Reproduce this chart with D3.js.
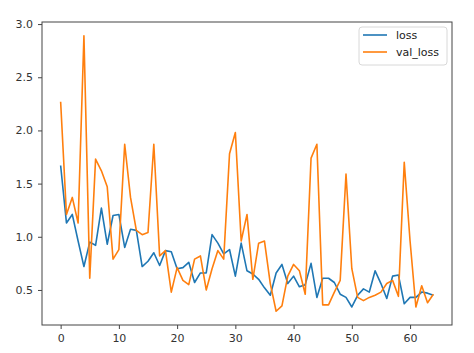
<!DOCTYPE html>
<html lang="en">
<head>
    <meta charset="UTF-8">
    <title>loss / val_loss</title>
    <script src="https://cdnjs.cloudflare.com/ajax/libs/d3/7.8.5/d3.min.js"></script>
    <style>
        body { margin: 0; background: #fff; font-family: "DejaVu Sans", sans-serif; }
        .axis text { font-size: 11px; fill: #333; font-family: "DejaVu Sans", sans-serif; }
        .axis path, .axis line { stroke: #444; }
        .legend text { font-size: 11px; fill: #222; }
    </style>
</head>
<body>
    <div id="chart"></div>
    <script>
    // per-epoch values
    const loss = [1.67, 1.13, 1.21, 0.96, 0.72, 0.95, 0.92, 1.27, 0.93, 1.20,
                  1.21, 0.90, 1.07, 1.06, 0.72, 0.77, 0.85, 0.73, 0.87, 0.86,
                  0.70, 0.71, 0.76, 0.57, 0.66, 0.66, 1.02, 0.94, 0.84, 0.88,
                  0.63, 0.94, 0.68, 0.65, 0.60, 0.52, 0.45, 0.66, 0.74, 0.56,
                  0.63, 0.53, 0.55, 0.75, 0.43, 0.61, 0.61, 0.57, 0.46, 0.43,
                  0.34, 0.45, 0.51, 0.48, 0.68, 0.56, 0.42, 0.63, 0.64, 0.37,
                  0.43, 0.43, 0.48, 0.47, 0.45];
    const valLoss = [2.27, 1.21, 1.37, 1.13, 2.89, 0.61, 1.73, 1.62, 1.47, 0.79,
                     0.88, 1.87, 1.37, 1.06, 1.02, 1.04, 1.87, 0.82, 0.87, 0.48,
                     0.71, 0.59, 0.55, 0.79, 0.82, 0.50, 0.70, 0.87, 0.79, 1.78,
                     1.98, 0.96, 1.21, 0.60, 0.94, 0.96, 0.56, 0.30, 0.35, 0.63,
                     0.74, 0.68, 0.46, 1.74, 1.87, 0.36, 0.36, 0.48, 0.59, 1.59,
                     0.70, 0.43, 0.40, 0.43, 0.45, 0.48, 0.56, 0.59, 0.44, 1.70,
                     0.96, 0.34, 0.54, 0.38, 0.46];
    const seriesNames = ["loss", "val_loss"];
    const seriesColors = ["#1f77b4", "#ff7f0e"];
    const xTicks = [0, 10, 20, 30, 40, 50, 60];
    const yTicks = [0.5, 1.0, 1.5, 2.0, 2.5, 3.0];

    const W = 474, H = 353;
    const margin = {top: 22, right: 22, bottom: 28, left: 42};
    const width = W - margin.left - margin.right;
    const height = H - margin.top - margin.bottom;

    const svg = d3.select("#chart").append("svg")
        .attr("width", W)
        .attr("height", H);
    const g = svg.append("g")
        .attr("transform", `translate(${margin.left},${margin.top})`);

    // matplotlib style 5% margins
    const n = loss.length;
    const xPad = (n - 1) * 0.05;
    const x = d3.scaleLinear()
        .domain([-xPad, n - 1 + xPad])
        .range([0, width]);

    const all = loss.concat(valLoss);
    const lo = d3.min(all), hi = d3.max(all);
    const yPad = (hi - lo) * 0.05;
    const y = d3.scaleLinear()
        .domain([lo - yPad, hi + yPad])
        .range([height, 0]);

    g.append("g")
        .attr("class", "axis")
        .attr("transform", `translate(0,${height})`)
        .call(d3.axisBottom(x).tickValues(xTicks).tickSize(4).tickPadding(5).tickFormat(d3.format("d")))
        .call(a => a.select(".domain").remove());

    g.append("g")
        .attr("class", "axis")
        .call(d3.axisLeft(y).tickValues(yTicks).tickSize(4).tickPadding(5).tickFormat(d3.format(".1f")))
        .call(a => a.select(".domain").remove());

    // frame
    g.append("rect")
        .attr("width", width)
        .attr("height", height)
        .attr("fill", "none")
        .attr("stroke", "#444")
        .attr("stroke-width", 1);

    const line = d3.line()
        .x((d, i) => x(i))
        .y(d => y(d));

    [loss, valLoss].forEach((s, k) => {
        g.append("path")
            .datum(s)
            .attr("fill", "none")
            .attr("stroke", seriesColors[k])
            .attr("stroke-width", 1.6)
            .attr("stroke-linejoin", "round")
            .attr("d", line);
    });

    // legend
    const legend = g.append("g")
        .attr("class", "legend")
        .attr("transform", `translate(${width - 93},5)`);
    legend.append("rect")
        .attr("width", 88)
        .attr("height", 38)
        .attr("rx", 3)
        .attr("fill", "#fff")
        .attr("fill-opacity", 0.8)
        .attr("stroke", "#d8d8d8");
    seriesNames.forEach((name, k) => {
        legend.append("line")
            .attr("x1", 4).attr("x2", 28)
            .attr("y1", 8 + k * 17).attr("y2", 8 + k * 17)
            .attr("stroke", seriesColors[k])
            .attr("stroke-width", 1.6);
        legend.append("text")
            .attr("x", 37)
            .attr("y", 8 + k * 17)
            .attr("dy", "0.35em")
            .text(name);
    });
    </script>
</body>
</html>
